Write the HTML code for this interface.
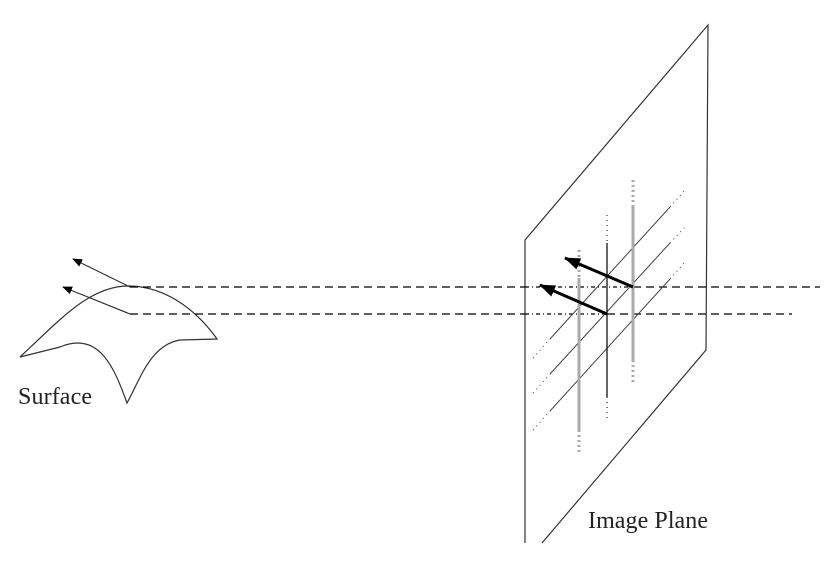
<!DOCTYPE html>
<html><head><style>body{margin:0;background:#fff}svg{display:block}</style></head><body>
<svg width="829" height="567" viewBox="0 0 829 567" xmlns="http://www.w3.org/2000/svg">
<defs>
<marker id="a" markerWidth="10" markerHeight="8" refX="9" refY="4" orient="auto" markerUnits="userSpaceOnUse"><path d="M0,0 L10,4 L0,8 Z" fill="#000"/></marker>
<marker id="b" markerWidth="16" markerHeight="12" refX="15" refY="6" orient="auto" markerUnits="userSpaceOnUse"><path d="M0,0 L16,6 L0,12 Z" fill="#000"/></marker>
</defs>
<g fill="none" stroke="#333" stroke-width="1.2">
<path d="M20,357 C60,320 90,285 130,286 C170,287 200,315 217,339 L180,340 C150,345 140,380 127,403 C115,370 100,330 60,347 Z"/>
<path d="M525,543 L525,240 L708,25 L706,350 L542,543"/>
</g>
<g stroke="#000" stroke-width="1.2" stroke-dasharray="8,5">
<line x1="130" y1="287" x2="525" y2="287"/>
<line x1="130" y1="314" x2="525" y2="314"/>
<line x1="633" y1="287" x2="820" y2="287"/>
<line x1="607" y1="314" x2="792" y2="314"/>
</g>
<g stroke="#000" stroke-width="1.2" stroke-dasharray="4,3,1,3">
<line x1="525" y1="287" x2="633" y2="287"/>
<line x1="525" y1="314" x2="607" y2="314"/>
</g>
<g stroke="#333" stroke-width="1.2">
<line x1="130" y1="287" x2="73" y2="259" marker-end="url(#a)"/>
<line x1="130" y1="314" x2="63" y2="287" marker-end="url(#a)"/>
</g>
<g stroke="#444" stroke-width="1">
<line x1="550" y1="339" x2="670" y2="207"/>
<line x1="550" y1="374" x2="670" y2="243"/>
<line x1="550" y1="411" x2="670" y2="279"/>
</g>
<g stroke="#444" stroke-width="1" stroke-dasharray="1,4">
<line x1="533" y1="358" x2="550" y2="339"/><line x1="670" y1="207" x2="685" y2="190"/>
<line x1="533" y1="393" x2="550" y2="374"/><line x1="670" y1="243" x2="685" y2="227"/>
<line x1="533" y1="430" x2="550" y2="411"/><line x1="670" y1="279" x2="685" y2="262"/>
</g>
<line x1="607" y1="243" x2="607" y2="397" stroke="#000" stroke-width="1.2"/>
<line x1="607" y1="215" x2="607" y2="243" stroke="#000" stroke-width="1" stroke-dasharray="1,4"/>
<line x1="607" y1="397" x2="607" y2="418" stroke="#000" stroke-width="1" stroke-dasharray="1,4"/>
<line x1="633" y1="207" x2="633" y2="360" stroke="#aaa" stroke-width="3"/>
<line x1="633" y1="180" x2="633" y2="207" stroke="#aaa" stroke-width="3" stroke-dasharray="2,3"/>
<line x1="633" y1="360" x2="633" y2="382" stroke="#aaa" stroke-width="3" stroke-dasharray="2,3"/>
<line x1="579" y1="278" x2="579" y2="430" stroke="#aaa" stroke-width="3"/>
<line x1="579" y1="250" x2="579" y2="278" stroke="#aaa" stroke-width="3" stroke-dasharray="2,3"/>
<line x1="579" y1="430" x2="579" y2="455" stroke="#aaa" stroke-width="3" stroke-dasharray="2,3"/>
<g stroke="#000" stroke-width="3">
<line x1="633" y1="287" x2="565" y2="258" marker-end="url(#b)"/>
<line x1="607" y1="314" x2="540" y2="285" marker-end="url(#b)"/>
</g>
<g font-family="Liberation Serif, serif" font-size="24" fill="#222">
<text x="18" y="404" textLength="74">Surface</text>
<text x="588" y="528" textLength="120">Image Plane</text>
</g>
</svg>
</body></html>
